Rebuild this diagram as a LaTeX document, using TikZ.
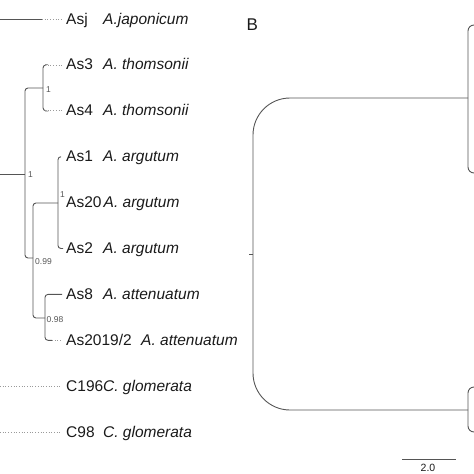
\documentclass[tikz,border=0pt]{standalone}
\usepackage{fontspec}
\setmainfont{Liberation Sans}
\definecolor{linec}{HTML}{555555}
\definecolor{dotc}{HTML}{9A9A9A}
\definecolor{txtc}{HTML}{1A1A1A}
\definecolor{supc}{HTML}{555555}
\begin{document}
\begin{tikzpicture}[x=1pt,y=-1pt,
  br/.style={draw=linec, line width=0.9pt, rounded corners=3pt},
  brb/.style={draw=linec, line width=0.9pt},
  dotl/.style={draw=dotc, line width=0.7pt, dotted},
  tx/.style={font=\fontsize{15.5}{17}\selectfont, anchor=base west, inner sep=0pt, text=txtc},
  spn/.style={font=\fontsize{15.5}{17}\selectfont\itshape, anchor=base west, inner sep=0pt, text=txtc},
  supp/.style={font=\fontsize{8.5}{9}\selectfont, text=supc, inner sep=0pt, anchor=west}]
\useasboundingbox (0,0) rectangle (474,474);
% rows
\def\ya{19}\def\yb{64.9}\def\yc{110.8}\def\yd{156.7}\def\ye{202.6}
\def\yf{248.5}\def\yg{294.4}\def\yh{340.3}\def\yi{386.2}\def\yj{432.1}
% leaf tips
\coordinate (tAsj) at (62,\ya);
\coordinate (tAs3) at (62,\yb);
\coordinate (tAs4) at (62,\yc);
\coordinate (tAs2019) at (62,\yh);
\coordinate (tC196) at (62,\yi);
\coordinate (tC98) at (62,\yj);
% labels
\node[tx] (nAsj) at (66,\ya+5) {Asj};
\node[spn] (sAsj) at (103,\ya+5) {A.japonicum};
\node[tx] (nAs3) at (66,\yb+5) {As3};
\node[spn] (sAs3) at (103,\yb+5) {A. thomsonii};
\node[tx] (nAs4) at (66,\yc+5) {As4};
\node[spn] (sAs4) at (103,\yc+5) {A. thomsonii};
\node[tx] (nAs1) at (66,\yd+5) {As1};
\node[spn] (sAs1) at (103,\yd+5) {A. argutum};
\node[tx] (nAs20) at (66,\ye+5) {As20};
\node[spn] (sAs20) at (103.5,\ye+5) {A. argutum};
\node[tx] (nAs2) at (66,\yf+5) {As2};
\node[spn] (sAs2) at (103,\yf+5) {A. argutum};
\node[tx] (nAs8) at (66,\yg+5) {As8};
\node[spn] (sAs8) at (103,\yg+5) {A. attenuatum};
\node[tx] (nAs2019) at (66,\yh+5) {As2019/2};
\node[spn] (sAs2019) at (141,\yh+5) {A. attenuatum};
\node[tx] (nC196) at (66,\yi+5) {C196};
\node[spn] (sC196) at (103,\yi+5) {C. glomerata};
\node[tx] (nC98) at (66,\yj+5) {C98};
\node[spn] (sC98) at (103,\yj+5) {C. glomerata};
% internal nodes
\coordinate (kRoot) at (0,174);
\coordinate (k1) at (25,174);
\coordinate (k34) at (43,88);
\coordinate (k099) at (33,258);
\coordinate (kArg) at (58,203);
\coordinate (k098) at (45,318);
% panel A branches
\draw[brb] (0,\ya) -- (42,\ya);
\draw[dotl] (42,\ya) -- (tAsj);
\draw[brb] (kRoot) -- (k1);
\draw[br] (k34) -- (25,88) -- (25,258) -- (k099);
\draw[br] (45,\yb) -- (43,\yb) -- (43,\yc) -- (45,\yc);
\draw[dotl] (45,\yb) -- (tAs3);
\draw[dotl] (45,\yc) -- (tAs4);
\draw[br] (kArg) -- (33,203) -- (33,318) -- (k098);
\draw[br] (61,\yd) -- (58,\yd) -- (58,\yf) -- (63,\yf);
\draw[br] (62,\yg) -- (45,\yg) -- (45,\yh) -- (52,\yh);
\draw[dotl] (52,\yh) -- (tAs2019);
\draw[dotl] (0,\yi) -- (tC196);
\draw[dotl] (0,\yj) -- (tC98);
% support values
\node[supp] (p1a) at (46,90) {1};
\node[supp] (p1b) at (28,175) {1};
\node[supp] (p1c) at (60,195) {1};
\node[supp] (p099) at (35,262) {0.99};
\node[supp] (p098) at (46.5,320) {0.98};
% panel B
\node[font=\fontsize{17}{18}\selectfont, anchor=base west, inner sep=0pt, text=txtc] (lblB) at (246.5,30) {B};
\coordinate (bRoot) at (253,254);
\coordinate (bTop) at (468,98);
\coordinate (bBot) at (468,410);
\draw[brb] (249,254) -- (bRoot);
\draw[brb, rounded corners=37pt] (bTop) -- (253,98) -- (253,410) -- (bBot);
\draw[brb, rounded corners=6pt] (475,25) -- (468,25) -- (468,173) -- (475,173);
\draw[brb, rounded corners=6pt] (475,387) -- (468,387) -- (468,432) -- (475,432);
% scale bar
\coordinate (sb1) at (402,459);
\coordinate (sb2) at (456,459);
\draw[draw=linec, line width=0.9pt] (sb1) -- (sb2);
\node[font=\fontsize{10.5}{11}\selectfont, text=txtc, inner sep=0pt] (sbl) at (428,468) {2.0};
\end{tikzpicture}
\end{document}
